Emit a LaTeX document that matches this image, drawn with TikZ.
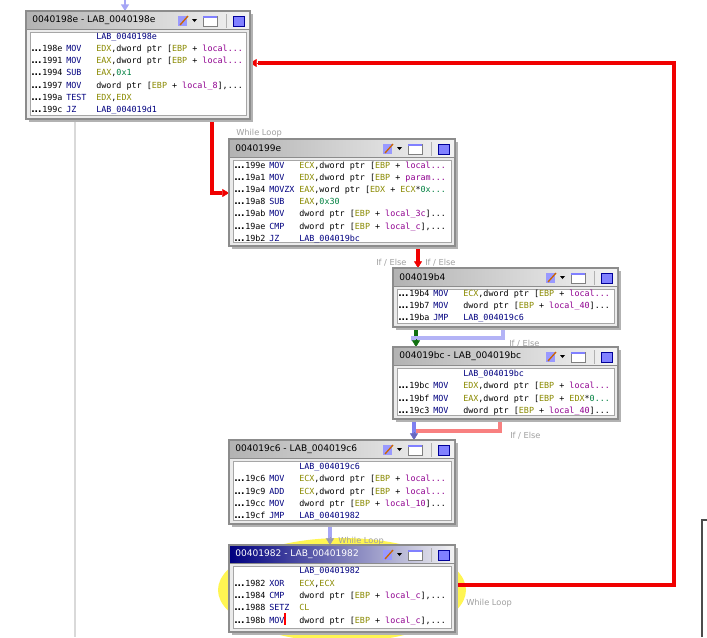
\documentclass[tikz,border=0pt]{standalone}
\usepackage{fontspec}
\setmainfont{DejaVu Sans}
\newfontfamily\codefont{DejaVu Sans Mono}
\usetikzlibrary{arrows.meta}
\definecolor{mn}{HTML}{000080}
\definecolor{rg}{HTML}{8A8A00}
\definecolor{lc}{HTML}{900090}
\definecolor{hx}{HTML}{008040}
\definecolor{edgered}{HTML}{F00000}
\definecolor{edgeblue}{HTML}{8080F0}
\definecolor{edgegreen}{HTML}{107010}
\definecolor{lbl}{HTML}{A0A0A0}
\tikzset{
 frame/.style={draw=black!45, fill=black!8, line width=0.8pt},
 body/.style={draw=black!35, fill=white, line width=0.5pt},
 ctext/.style={anchor=base west, inner sep=0pt, font=\codefont\fontsize{6.3}{7}\selectfont},
 dtext/.style={anchor=base west, inner sep=0pt, font=\bfseries\fontsize{6.8}{7}\selectfont},
 ttext/.style={anchor=west, inner sep=0pt, font=\fontsize{6.8}{8}\selectfont},
 elbl/.style={anchor=west, inner sep=0pt, text=lbl, font=\fontsize{6.2}{8}\selectfont},
 redge/.style={edgered, line width=2.6pt},
 bedge/.style={edgeblue, line width=2.6pt},
 tip/.style={-{Triangle[length=5pt,width=6pt]}}
}
\newcommand\blk[9]{%
 \fill[black!30] (#2+3,#3+3) rectangle (#4+3,#5+3);
 \path[frame] (#2,#3) rectangle (#4,#5);
 \shade[left color=#7, right color=#8] (#2+1,#3+1) rectangle (#4-1,#3+18);
 \draw[black!45] (#2,#3+18) -- (#4,#3+18);
 \path[body] (#2+4,#3+21) rectangle (#4-4,#5-4);
 \begin{scope}
 \clip (#2,#3) rectangle (#2+134,#3+18);
 \node[ttext, text=#9] (#1t) at (#2+6,#3+9.5) {#6};
 \end{scope}
 \fill[blue!40!white] (#4-72,#3+5) rectangle (#4-63,#3+15);
 \draw[orange!80!black, line width=1pt] (#4-70,#3+14) -- (#4-62,#3+5);
 \fill[black] (#4-58,#3+8) -- (#4-53,#3+8) -- (#4-55.5,#3+11) -- cycle;
 \draw[black!50, fill=white] (#4-47,#3+5) rectangle (#4-33,#3+15);
 \fill[blue!50] (#4-47,#3+5) rectangle (#4-33,#3+7);
 \draw[black!30] (#4-24,#3+3) -- (#4-24,#3+17);
 \draw[blue!60!black, fill=blue!50] (#4-17,#3+5) rectangle (#4-6,#3+15);
 \coordinate (#1) at (#2,#3);
}
\newcommand\cl[6]{%
 \node[dtext] at (#1+5,#2+3) {...};
 \node[ctext] at (#1+16,#2+3) {#3};
 \node[ctext, text=mn] at (#1+40,#2+3) {#4};
 \node[ctext] at (#1+70,#2+3) {#5};
}
\newcommand\lab[3]{\node[ctext, text=mn] at (#1+70,#2+3) {#3};}
\begin{document}
\begin{tikzpicture}[x=0.75pt,y=-0.75pt]
\useasboundingbox (0,0) rectangle (707,637);
\fill[white] (0,0) rectangle (707,637);
\draw[black!15, line width=0.8pt] (75,119) -- (75,637);
\draw[black!70, line width=0.8pt] (702,637) -- (702,520) -- (707,520);
\fill[yellow!75!white, opacity=0.9] (342,590) ellipse (124 and 52);
\coordinate (top) at (125,0);
\draw[edgeblue!70, line width=1pt, tip] (top) -- (125,11);
\draw[redge] (212,119) -- (212,193) -- (222,193);
\draw[edgered, tip] (220,193) -- (229,193);
\draw[redge] (418,246) -- (418,262);
\draw[edgered, tip] (418,260) -- (418,268);
\draw[edgegreen, line width=2.6pt] (416,327) -- (416,341);
\draw[edgeblue!60, line width=2.6pt] (503,327) -- (503,338) -- (413,338) -- (413,341);
\draw[edgegreen, tip] (416,339) -- (416,347);
\draw[edgered!50, line width=2.6pt] (500,419) -- (500,431) -- (414,431);
\draw[edgeblue, line width=2.6pt] (414,419) -- (414,434);
\draw[edgeblue!80!black, tip] (414,432) -- (414,440);
\draw[edgeblue!70, line width=2.6pt] (330,524) -- (330,539);
\draw[edgeblue!40!black!50, tip] (330,537) -- (330,545);
\draw[redge] (455,585) -- (674,585) -- (674,63) -- (258,63);
\draw[edgered, tip] (260,63) -- (250,63);
\node[elbl] (l1) at (236,133) {While Loop};
\node[elbl] (l2) at (376,263) {If / Else};
\node[elbl] (l3) at (425,263) {If / Else};
\node[elbl] (l4) at (509,344) {If / Else};
\node[elbl] (l5) at (510,436) {If / Else};
\node[elbl] (l6) at (338,541) {While Loop};
\node[elbl] (l7) at (466,603) {While Loop};
\blk{A}{26}{11}{250}{119}{0040198e - LAB\_0040198e}{black!30}{black!5}{black}
\lab{26}{36}{LAB\_0040198e}
\cl{26}{48}{198e}{MOV}{\textcolor{rg}{EDX},dword ptr [\textcolor{rg}{EBP} + \textcolor{lc}{local...}}{}
\cl{26}{60}{1991}{MOV}{\textcolor{rg}{EAX},dword ptr [\textcolor{rg}{EBP} + \textcolor{lc}{local...}}{}
\cl{26}{72}{1994}{SUB}{\textcolor{rg}{EAX},\textcolor{hx}{0x1}}{}
\cl{26}{85}{1997}{MOV}{dword ptr [\textcolor{rg}{EBP} + \textcolor{lc}{local\_8}],...}{}
\cl{26}{97}{199a}{TEST}{\textcolor{rg}{EDX},\textcolor{rg}{EDX}}{}
\cl{26}{109}{199c}{JZ}{\textcolor{mn}{LAB\_004019d1}}{}
\blk{B}{229}{139}{455}{246}{0040199e}{black!30}{black!5}{black}
\cl{229}{165}{199e}{MOV}{\textcolor{rg}{ECX},dword ptr [\textcolor{rg}{EBP} + \textcolor{lc}{local...}}{}
\cl{229}{177}{19a1}{MOV}{\textcolor{rg}{EDX},dword ptr [\textcolor{rg}{EBP} + \textcolor{lc}{param...}}{}
\cl{229}{189}{19a4}{MOVZX}{\textcolor{rg}{EAX},word ptr [\textcolor{rg}{EDX} + \textcolor{rg}{ECX}*\textcolor{hx}{0x...}}{}
\cl{229}{201}{19a8}{SUB}{\textcolor{rg}{EAX},\textcolor{hx}{0x30}}{}
\cl{229}{213}{19ab}{MOV}{dword ptr [\textcolor{rg}{EBP} + \textcolor{lc}{local\_3c}]...}{}
\cl{229}{226}{19ae}{CMP}{dword ptr [\textcolor{rg}{EBP} + \textcolor{lc}{local\_c}],...}{}
\cl{229}{238}{19b2}{JZ}{\textcolor{mn}{LAB\_004019bc}}{}
\blk{C}{393}{268}{618}{327}{004019b4}{black!30}{black!5}{black}
\cl{393}{293}{19b4}{MOV}{\textcolor{rg}{ECX},dword ptr [\textcolor{rg}{EBP} + \textcolor{lc}{local...}}{}
\cl{393}{305}{19b7}{MOV}{dword ptr [\textcolor{rg}{EBP} + \textcolor{lc}{local\_40}]...}{}
\cl{393}{317}{19ba}{JMP}{\textcolor{mn}{LAB\_004019c6}}{}
\blk{D}{393}{347}{618}{419}{004019bc - LAB\_004019bc}{black!30}{black!5}{black}
\lab{393}{373}{LAB\_004019bc}
\cl{393}{385}{19bc}{MOV}{\textcolor{rg}{EDX},dword ptr [\textcolor{rg}{EBP} + \textcolor{lc}{local...}}{}
\cl{393}{398}{19bf}{MOV}{\textcolor{rg}{EAX},dword ptr [\textcolor{rg}{EBP} + \textcolor{rg}{EDX}*\textcolor{hx}{0...}}{}
\cl{393}{410}{19c3}{MOV}{dword ptr [\textcolor{rg}{EBP} + \textcolor{lc}{local\_40}]...}{}
\blk{E}{229}{440}{455}{524}{004019c6 - LAB\_004019c6}{black!30}{black!5}{black}
\lab{229}{466}{LAB\_004019c6}
\cl{229}{478}{19c6}{MOV}{\textcolor{rg}{ECX},dword ptr [\textcolor{rg}{EBP} + \textcolor{lc}{local...}}{}
\cl{229}{491}{19c9}{ADD}{\textcolor{rg}{ECX},dword ptr [\textcolor{rg}{EBP} + \textcolor{lc}{local...}}{}
\cl{229}{503}{19cc}{MOV}{dword ptr [\textcolor{rg}{EBP} + \textcolor{lc}{local\_10}]...}{}
\cl{229}{515}{19cf}{JMP}{\textcolor{mn}{LAB\_00401982}}{}
\blk{F}{229}{545}{455}{632}{00401982 - LAB\_00401982}{blue!50!black}{black!5}{white}
\lab{229}{570}{LAB\_00401982}
\cl{229}{583}{1982}{XOR}{\textcolor{rg}{ECX},\textcolor{rg}{ECX}}{}
\cl{229}{595}{1984}{CMP}{dword ptr [\textcolor{rg}{EBP} + \textcolor{lc}{local\_c}],...}{}
\cl{229}{607}{1988}{SETZ}{\textcolor{rg}{CL}}{}
\cl{229}{620}{198b}{MOV}{dword ptr [\textcolor{rg}{EBP} + \textcolor{lc}{local\_c}],...}{}
\draw[red, line width=1pt] (285,613) -- (285,625);
\end{tikzpicture}
\end{document}
